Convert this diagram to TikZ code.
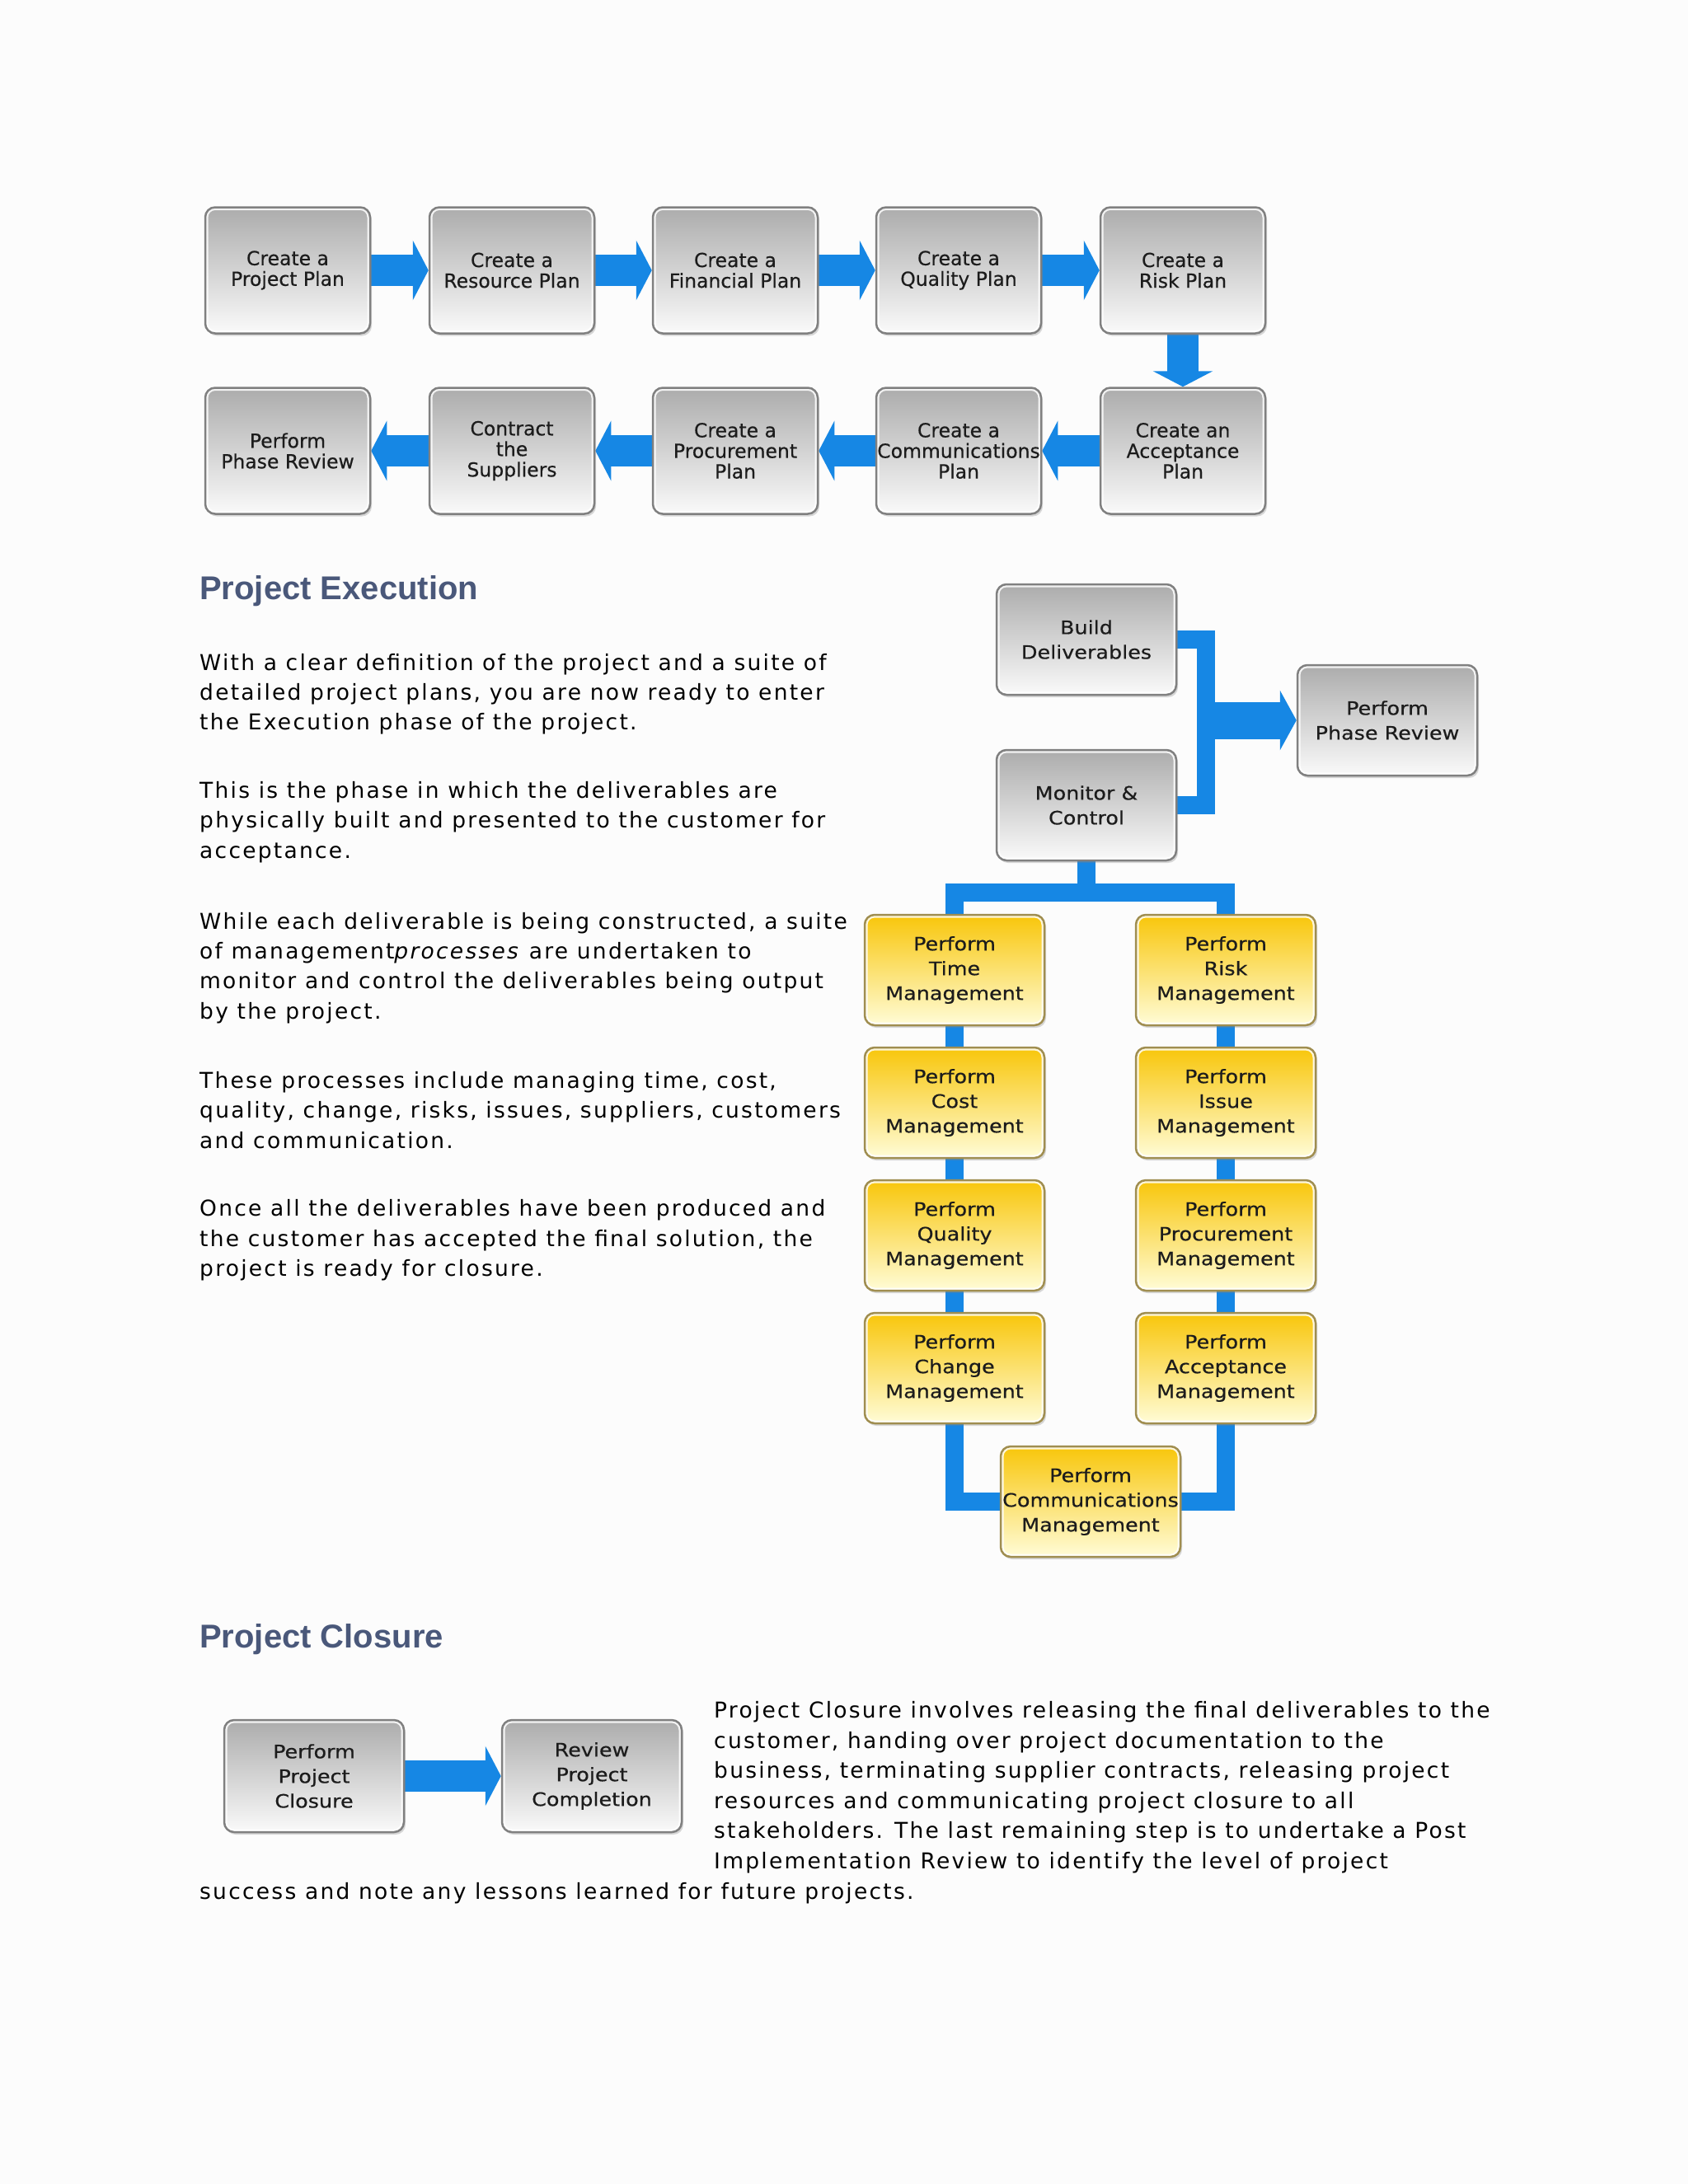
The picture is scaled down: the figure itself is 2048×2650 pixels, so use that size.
\documentclass[tikz,border=0pt]{standalone}
\usepackage{fontspec}
\setmainfont{DejaVu Sans}
\newfontfamily\headfont{Liberation Sans}
\newfontfamily\bodyfont[LetterSpace=8.5]{DejaVu Sans}
\newfontfamily\boxfont[FakeBold=0.4]{DejaVu Sans}
\newfontfamily\wideboxfont[FakeStretch=1.13,FakeBold=0.4]{DejaVu Sans}
\usetikzlibrary{arrows.meta,shadows,calc}

\definecolor{arrowblue}{RGB}{22,135,228}
\definecolor{headblue}{RGB}{74,88,122}
\definecolor{graytop}{RGB}{172,172,172}
\definecolor{graybot}{RGB}{250,250,250}
\definecolor{grayedge}{RGB}{128,128,128}
\definecolor{yeltop}{RGB}{248,198,10}
\definecolor{yelbot}{RGB}{255,252,215}
\definecolor{yeledge}{RGB}{160,142,80}
\definecolor{boxtext}{RGB}{28,28,28}
\definecolor{pagebg}{RGB}{252,252,252}

\pgfdeclarelayer{bg}
\pgfdeclarelayer{conn}
\pgfsetlayers{bg,conn,main}

\tikzset{
  graybox/.style={rounded corners=12pt, draw=grayedge, line width=2.5pt,
    top color=graytop, bottom color=graybot, minimum width=200pt,
    minimum height=153pt, align=center, text=boxtext, inner sep=0pt,
    font=\boxfont\fontsize{23.5}{25}\selectfont,
    path picture={\draw[white, opacity=0.85, line width=7pt, rounded corners=12pt]
      (path picture bounding box.south west) rectangle (path picture bounding box.north east);},
    drop shadow={opacity=0.3, shadow xshift=2pt, shadow yshift=-3pt}},
  bigbox/.style={graybox, minimum width=218pt, minimum height=134pt,
    font=\wideboxfont\fontsize{22.5}{30}\selectfont},
  yelbox/.style={bigbox, draw=yeledge, top color=yeltop, bottom color=yelbot},
  flowarrow/.style={draw=arrowblue, line width=38pt,
    -{Triangle[length=19pt,width=72pt]}},
  conn/.style={draw=arrowblue, line width=22pt, line join=miter},
  bodytext/.style={anchor=base west, inner sep=0pt, text=black,
    font=\bodyfont\fontsize{26.5}{30}\selectfont},
  heading/.style={anchor=base west, inner sep=0pt, text=headblue,
    font=\headfont\bfseries\fontsize{40}{46}\selectfont}
}

\begin{document}
\begin{tikzpicture}[x=1pt,y=-1pt]
\useasboundingbox (0,0) rectangle (2048,2650);
\begin{pgfonlayer}{bg}
  \fill[pagebg] (0,0) rectangle (2048,2650);
\end{pgfonlayer}

% ---- Planning flow ----
\node[graybox] (cpp) at (349,328) {Create a\\Project Plan};
\node[graybox] (crp) at (621,328) {Create a\\Resource Plan};
\node[graybox] (cfp) at (892,328) {Create a\\Financial Plan};
\node[graybox] (cqp) at (1163,328) {Create a\\Quality Plan};
\node[graybox] (crk) at (1435,328) {Create a\\Risk Plan};
\node[graybox] (acc) at (1435,547) {Create an\\Acceptance\\Plan};
\node[graybox] (com) at (1163,547) {Create a\\Communications\\Plan};
\node[graybox] (pro) at (892,547) {Create a\\Procurement\\Plan};
\node[graybox] (sup) at (621,547) {Contract\\the\\Suppliers};
\node[graybox] (ppr) at (349,547) {Perform\\Phase Review};

\begin{pgfonlayer}{conn}
  \draw[flowarrow] (cpp.east) -- (crp.west);
  \draw[flowarrow] (crp.east) -- (cfp.west);
  \draw[flowarrow] (cfp.east) -- (cqp.west);
  \draw[flowarrow] (cqp.east) -- (crk.west);
  \draw[flowarrow] (crk.south) -- (acc.north);
  \draw[flowarrow] (acc.west) -- (com.east);
  \draw[flowarrow] (com.west) -- (pro.east);
  \draw[flowarrow] (pro.west) -- (sup.east);
  \draw[flowarrow] (sup.west) -- (ppr.east);
\end{pgfonlayer}

% ---- Execution heading and text ----
\node[heading] (h1) at (242,727) {Project Execution};

\node[bodytext] (a1) at (242,813) {With a clear definition of the project and a suite of};
\node[bodytext] (a2) at (242,849) {detailed project plans, you are now ready to enter};
\node[bodytext] (a3) at (242,885) {the Execution phase of the project.};

\node[bodytext] (b1) at (242,968) {This is the phase in which the deliverables are};
\node[bodytext] (b2) at (242,1004) {physically built and presented to the customer for};
\node[bodytext] (b3) at (242,1041) {acceptance.};

\node[bodytext] (c1) at (242,1127) {While each deliverable is being constructed, a suite};
\node[bodytext] (c2) at (242,1163) {of management\textit{processes} are undertaken to};
\node[bodytext] (c3) at (242,1199) {monitor and control the deliverables being output};
\node[bodytext] (c4) at (242,1236) {by the project.};

\node[bodytext] (d1) at (242,1320) {These processes include managing time, cost,};
\node[bodytext] (d2) at (242,1356) {quality, change, risks, issues, suppliers, customers};
\node[bodytext] (d3) at (242,1393) {and communication.};

\node[bodytext] (e1) at (242,1475) {Once all the deliverables have been produced and};
\node[bodytext] (e2) at (242,1512) {the customer has accepted the final solution, the};
\node[bodytext] (e3) at (242,1548) {project is ready for closure.};

% ---- Execution diagram ----
\node[bigbox] (build) at (1318,776) {Build\\Deliverables};
\node[bigbox] (mon) at (1318,977) {Monitor \&\\Control};
\node[bigbox] (phase) at (1683,874) {Perform\\Phase Review};

\node[yelbox] (time) at (1158,1177) {Perform\\Time\\Management};
\node[yelbox] (risk) at (1487,1177) {Perform\\Risk\\Management};
\node[yelbox] (cost) at (1158,1338) {Perform\\Cost\\Management};
\node[yelbox] (issue) at (1487,1338) {Perform\\Issue\\Management};
\node[yelbox] (qual) at (1158,1499) {Perform\\Quality\\Management};
\node[yelbox] (procm) at (1487,1499) {Perform\\Procurement\\Management};
\node[yelbox] (change) at (1158,1660) {Perform\\Change\\Management};
\node[yelbox] (accm) at (1487,1660) {Perform\\Acceptance\\Management};
\node[yelbox] (commm) at (1323,1822) {Perform\\Communications\\Management};

\coordinate (jn) at (1462,874);
\coordinate (bar) at (0,1083);
\begin{pgfonlayer}{conn}
  \draw[conn] (build.east) -- ++(35pt,0pt) |- (mon.east);
  \draw[draw=arrowblue, line width=45pt, -{Triangle[length=20pt,width=72pt]}] (jn) -- (phase.west);
  \draw[conn] (mon.south) -- (mon.south |- bar);
  \draw[conn] (time.north) -- (time.north |- bar) -- (risk.north |- bar) -- (risk.north);
  \draw[conn] (time) -- (cost);
  \draw[conn] (cost) -- (qual);
  \draw[conn] (qual) -- (change);
  \draw[conn] (risk) -- (issue);
  \draw[conn] (issue) -- (procm);
  \draw[conn] (procm) -- (accm);
  \draw[conn] (change.south) |- (commm.west);
  \draw[conn] (accm.south) |- (commm.east);
\end{pgfonlayer}

% ---- Closure ----
\node[heading] (h2) at (242,1999) {Project Closure};

\node[bigbox, minimum height=136pt] (pclos) at (381,2155) {Perform\\Project\\Closure};
\node[bigbox, minimum height=136pt] (rpc) at (718,2155) {Review\\Project\\Completion};
\begin{pgfonlayer}{conn}
  \draw[flowarrow] (pclos.east) -- (rpc.west);
\end{pgfonlayer}

\node[bodytext] (f1) at (866,2084) {Project Closure involves releasing the final deliverables to the};
\node[bodytext] (f2) at (866,2121) {customer, handing over project documentation to the};
\node[bodytext] (f3) at (866,2157) {business, terminating supplier contracts, releasing project};
\node[bodytext] (f4) at (866,2194) {resources and communicating project closure to all};
\node[bodytext] (f5) at (866,2230) {stakeholders. The last remaining step is to undertake a Post};
\node[bodytext] (f6) at (866,2267) {Implementation Review to identify the level of project};
\node[bodytext] (f7) at (242,2304) {success and note any lessons learned for future projects.};
\end{tikzpicture}
\end{document}
